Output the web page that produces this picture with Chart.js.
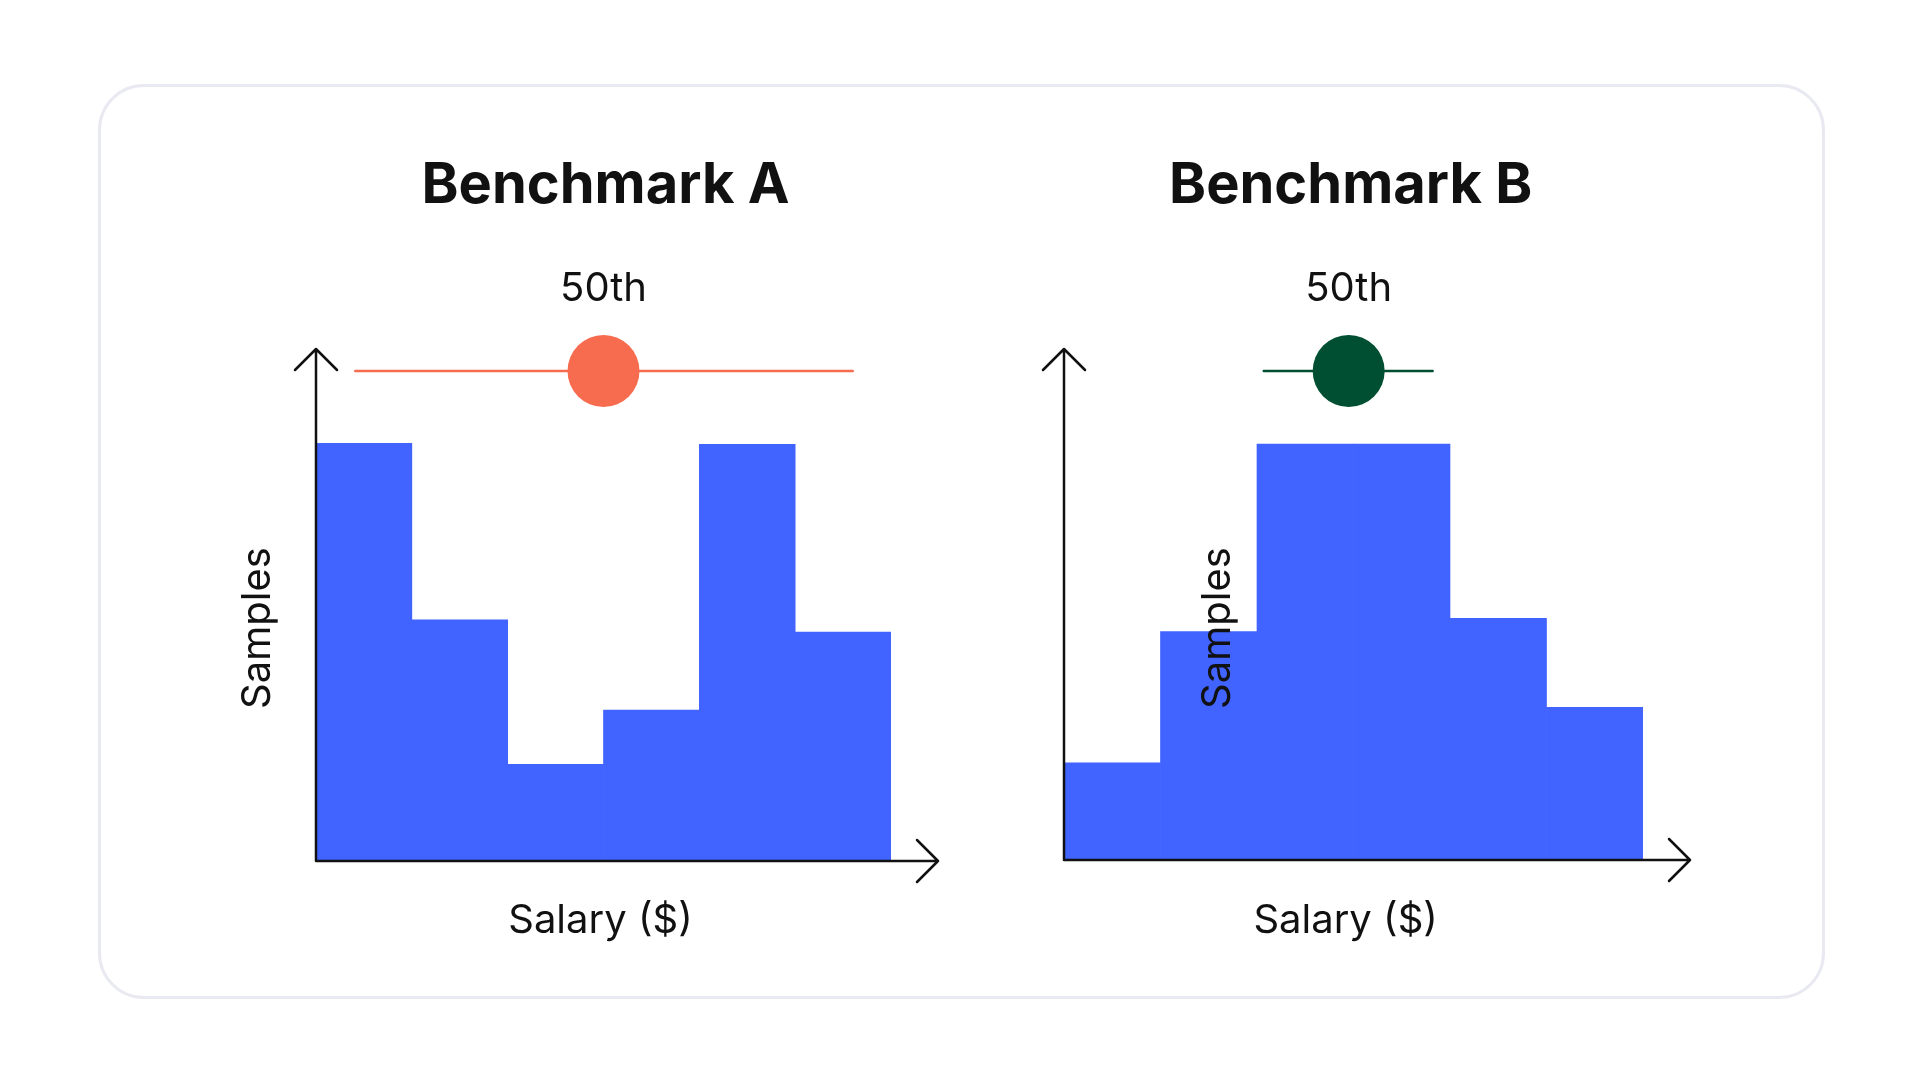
<!DOCTYPE html>
<html><head><meta charset="utf-8">
<script src="https://cdn.jsdelivr.net/npm/chart.js@4/dist/chart.umd.min.js"></script>
<style>
html,body{margin:0;padding:0;background:#fff;width:1920px;height:1082px;overflow:hidden;font-family:Inter,sans-serif}
#card{position:absolute;left:98px;top:84px;width:1721px;height:909px;border:3px solid #e9e9f2;border-radius:46px;box-sizing:content-box}
.cv{position:absolute;top:0;width:960px;height:1082px}
</style></head><body>
<div id="card"></div>
<div class="cv" style="left:0"><canvas id="a"></canvas></div>
<div class="cv" style="left:960px"><canvas id="b"></canvas></div>
<script>
const categories = ["1","2","3","4","5","6"];
const valuesA = [81.6, 47.1, 18.9, 29.5, 81.4, 44.7];
const valuesB = [19.0, 44.7, 81.4, 81.4, 47.3, 29.9];
const titles = ["Benchmark A", "Benchmark B"];
const percentileLabel = "50th";
const percentileA = {center: 2.5, from: -0.09, to: 5.1, color: "#f76b4f"};
const percentileB = {center: 2.45, from: 1.57, to: 3.32, color: "#004f32"};

function deco(title, pct){
  return {id:'deco', afterDraw(c){
    const ctx=c.ctx, a=c.chartArea, x=c.scales.x, y=c.scales.y;
    ctx.save();
    ctx.strokeStyle='#111'; ctx.lineWidth=2.5; ctx.lineCap='round'; ctx.lineJoin='round';
    const top=a.top, bot=a.bottom, l=a.left, r=a.right+47, h=21;
    ctx.beginPath(); ctx.moveTo(l,bot); ctx.lineTo(l,top); ctx.moveTo(l-h,top+h); ctx.lineTo(l,top); ctx.lineTo(l+h,top+h);
    ctx.moveTo(l,bot); ctx.lineTo(r,bot); ctx.moveTo(r-h,bot-h); ctx.lineTo(r,bot); ctx.lineTo(r-h,bot+h); ctx.stroke();
    ctx.fillStyle='#111'; ctx.textAlign='center'; ctx.textBaseline='middle';
    const cx=x.getPixelForValue(pct.center);
    ctx.font='bold 56px Inter'; ctx.fillText(title, cx+2, 186);
    ctx.font='40px Inter'; ctx.fillText(percentileLabel, cx, 289);
    ctx.fillText('Salary ($)', cx-3, 921);
    ctx.save(); ctx.translate(258,628); ctx.rotate(-Math.PI/2); ctx.fillText('Samples',0,0); ctx.restore();
    ctx.strokeStyle=pct.color; ctx.lineWidth=2.5;
    ctx.beginPath(); ctx.moveTo(x.getPixelForValue(pct.from),371); ctx.lineTo(x.getPixelForValue(pct.to),371); ctx.stroke();
    ctx.fillStyle=pct.color; ctx.beginPath(); ctx.arc(cx,371,36,0,Math.PI*2); ctx.fill();
    ctx.restore();
  }};
}
function make(id, vals, title, pct, pad){
  new Chart(document.getElementById(id), {
    type:'bar',
    data:{labels:categories, datasets:[{data:vals, backgroundColor:'#4163ff', borderWidth:0, categoryPercentage:1, barPercentage:1}]},
    options:{responsive:true, maintainAspectRatio:false, animation:false, devicePixelRatio:1,
      layout:{padding:pad},
      plugins:{legend:{display:false}, tooltip:{enabled:false}},
      scales:{x:{display:false}, y:{display:false, min:0, max:100}}},
    plugins:[deco(title,pct)]
  });
}
make('a', valuesA, titles[0], percentileA, {left:316,right:69,top:349,bottom:221});
make('b', valuesB, titles[1], percentileB, {left:104,right:277,top:349,bottom:222});
</script></body></html>
